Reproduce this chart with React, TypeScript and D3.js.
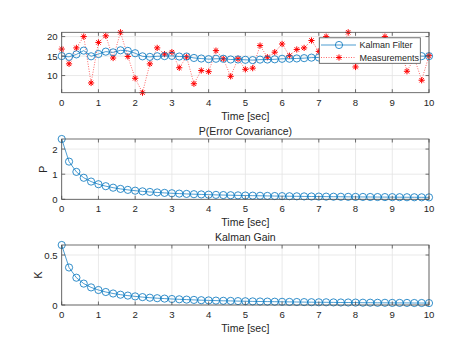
import React from "react";
import * as d3 from "d3";

const time = [0,0.2,0.4,0.6,0.8,1,1.2,1.4,1.6,1.8,2,2.2,2.4,2.6,2.8,3,3.2,3.4,3.6,3.8,4,4.2,4.4,4.6,4.8,5,5.2,5.4,5.6,5.8,6,6.2,6.4,6.6,6.8,7,7.2,7.4,7.6,7.8,8,8.2,8.4,8.6,8.8,9,9.2,9.4,9.6,9.8,10];
const measurements = [16.8,13.0,17.1,20.0,8.1,18.5,20.2,14.5,21.1,14.9,9.3,5.6,13.0,17.1,15.5,16.0,12.0,14.8,7.9,11.3,11.0,16.4,14.3,9.8,14.3,11.6,11.9,17.7,14.7,16.0,18.1,15.1,16.7,17.1,19.0,16.2,20.0,17.0,15.5,21.1,12.2,16.5,14.0,17.5,20.0,16.0,18.0,11.1,14.5,8.8,15.1];
const kalman = [15.0,14.8,15.43,16.4,14.94,15.53,16.14,15.95,16.48,16.33,15.73,14.93,14.79,14.95,14.99,15.05,14.88,14.88,14.52,14.37,14.21,14.31,14.31,14.12,14.13,14.04,13.96,14.09,14.11,14.17,14.30,14.32,14.39,14.47,14.60,14.64,14.78,14.84,14.86,15.02,14.95,14.99,14.97,15.02,15.13,15.15,15.21,15.12,15.11,14.98,14.98];
const covariance = [2.4,1.5,1.091,0.857,0.706,0.6,0.522,0.462,0.414,0.375,0.343,0.316,0.293,0.273,0.255,0.24,0.226,0.214,0.203,0.194,0.185,0.176,0.169,0.162,0.156,0.15,0.145,0.14,0.135,0.13,0.126,0.122,0.119,0.115,0.112,0.109,0.106,0.103,0.101,0.098,0.096,0.094,0.092,0.09,0.088,0.086,0.084,0.082,0.081,0.079,0.077];
const gain = [0.6,0.375,0.273,0.214,0.176,0.15,0.13,0.115,0.103,0.094,0.086,0.079,0.073,0.068,0.064,0.06,0.057,0.054,0.051,0.048,0.046,0.044,0.042,0.041,0.039,0.0375,0.036,0.035,0.034,0.033,0.032,0.031,0.03,0.029,0.028,0.027,0.027,0.026,0.025,0.025,0.024,0.023,0.023,0.022,0.022,0.021,0.021,0.021,0.02,0.02,0.019];

const xTicks = [0,1,2,3,4,5,6,7,8,9,10];
const yTicks1 = [10,15,20];
const yTicks2 = [0,1,2];
const yTicks3 = [0,0.5];

const FONT = "'Liberation Sans', Arial, Helvetica, sans-serif";
const BLUE = "#0072BD";
const RED = "#FF0000";
const AX = "#4d4d4d";
const TXT = "#262626";
const GRID = "#e3e3e3";
const FS = 9.6;
const FL = 10.5;
const FG = 9;

const LEFT = 61.7, RIGHT = 429;

function Star({ x, y, s = 3.1 }: { x: number; y: number; s?: number }) {
  const d = s * 0.7071;
  return (
    <g stroke={RED} strokeWidth={1}>
      <line x1={x - s} y1={y} x2={x + s} y2={y} />
      <line x1={x} y1={y - s} x2={x} y2={y + s} />
      <line x1={x - d} y1={y - d} x2={x + d} y2={y + d} />
      <line x1={x - d} y1={y + d} x2={x + d} y2={y - d} />
    </g>
  );
}

function Panel({ top, bottom, domain, yTicks, series, title, ylabel, ylabelX, measure, legend }: any) {
  const x = d3.scaleLinear().domain([0, 10]).range([LEFT, RIGHT]);
  const y = d3.scaleLinear().domain(domain).range([bottom, top]);
  const line = d3.line<number>().x((_, i) => x(time[i])).y((d) => y(d));
  return (
    <g>
      {xTicks.map((t) => (
        <line key={"gx" + t} x1={x(t)} x2={x(t)} y1={top} y2={bottom} stroke={GRID} strokeWidth={0.8} />
      ))}
      {yTicks.map((t: number) => (
        <line key={"gy" + t} x1={LEFT} x2={RIGHT} y1={y(t)} y2={y(t)} stroke={GRID} strokeWidth={0.8} />
      ))}
      {measure && (
        <g>
          <path d={line(measure) || ""} fill="none" stroke={RED} strokeWidth={0.6} strokeDasharray="1,1.5" />
          {measure.map((v: number, i: number) => (
            <Star key={"m" + i} x={x(time[i])} y={y(v)} />
          ))}
        </g>
      )}
      <path d={line(series) || ""} fill="none" stroke={BLUE} strokeWidth={0.7} />
      {series.map((v: number, i: number) => (
        <circle key={"c" + i} cx={x(time[i])} cy={y(v)} r={3.6} fill="none" stroke={BLUE} strokeWidth={0.8} />
      ))}
      <rect x={LEFT} y={top} width={RIGHT - LEFT} height={bottom - top} fill="none" stroke={AX} strokeWidth={0.8} />
      {xTicks.map((t) => (
        <g key={"tx" + t}>
          <line x1={x(t)} x2={x(t)} y1={bottom} y2={bottom - 3.5} stroke={AX} strokeWidth={0.8} />
          <line x1={x(t)} x2={x(t)} y1={top} y2={top + 3.5} stroke={AX} strokeWidth={0.8} />
          <text x={x(t)} y={bottom + 13} textAnchor="middle" fontSize={FS} fill={TXT} fontFamily={FONT}>{t}</text>
        </g>
      ))}
      {yTicks.map((t: number) => (
        <g key={"ty" + t}>
          <line x1={LEFT} x2={LEFT + 3.5} y1={y(t)} y2={y(t)} stroke={AX} strokeWidth={0.8} />
          <line x1={RIGHT} x2={RIGHT - 3.5} y1={y(t)} y2={y(t)} stroke={AX} strokeWidth={0.8} />
          <text x={LEFT - 4} y={y(t) + 3.5} textAnchor="end" fontSize={FS} fill={TXT} fontFamily={FONT}>{t}</text>
        </g>
      ))}
      <text x={(LEFT + RIGHT) / 2} y={bottom + 27} textAnchor="middle" fontSize={FL} fill={TXT} fontFamily={FONT}>Time [sec]</text>
      {title && (
        <text x={(LEFT + RIGHT) / 2} y={top - 4} textAnchor="middle" fontSize={FL} fill={TXT} fontFamily={FONT}>{title}</text>
      )}
      {ylabel && (
        <text transform={`translate(${ylabelX},${(top + bottom) / 2}) rotate(-90)`} textAnchor="middle" fontSize={FL} fill={TXT} fontFamily={FONT}>{ylabel}</text>
      )}
      {legend && (
        <g>
          <rect x={319.3} y={37.8} width={101} height={25.5} fill="#fff" stroke={AX} strokeWidth={0.8} />
          <line x1={321} x2={356} y1={45} y2={45} stroke={BLUE} strokeWidth={0.7} />
          <circle cx={339} cy={45} r={3.6} fill="none" stroke={BLUE} strokeWidth={0.8} />
          <text x={359.5} y={48.2} fontSize={FG} fill={TXT} fontFamily={FONT}>Kalman Filter</text>
          <line x1={321} x2={356} y1={57.5} y2={57.5} stroke={RED} strokeWidth={0.6} strokeDasharray="1,1.5" />
          <Star x={339} y={57.5} />
          <text x={359.5} y={60.8} fontSize={FG} fill={TXT} fontFamily={FONT}>Measurements</text>
        </g>
      )}
    </g>
  );
}

export default function App() {
  const ext = d3.extent(measurements) as [number, number];
  return (
    <svg width={474} height={355} style={{ position: "absolute", left: 0, top: 0, background: "#fff" }}>
      <rect width={474} height={355} fill="#fff" />
      <Panel top={32.3} bottom={92.7} domain={ext} yTicks={yTicks1} series={kalman} measure={measurements} legend />
      <Panel top={139} bottom={199.3} domain={[0, d3.max(covariance)]} yTicks={yTicks2} series={covariance} title="P(Error Covariance)" ylabel="P" ylabelX={47} />
      <Panel top={245} bottom={305} domain={[0, d3.max(gain)]} yTicks={yTicks3} series={gain} title="Kalman Gain" ylabel="K" ylabelX={41.5} />
    </svg>
  );
}
